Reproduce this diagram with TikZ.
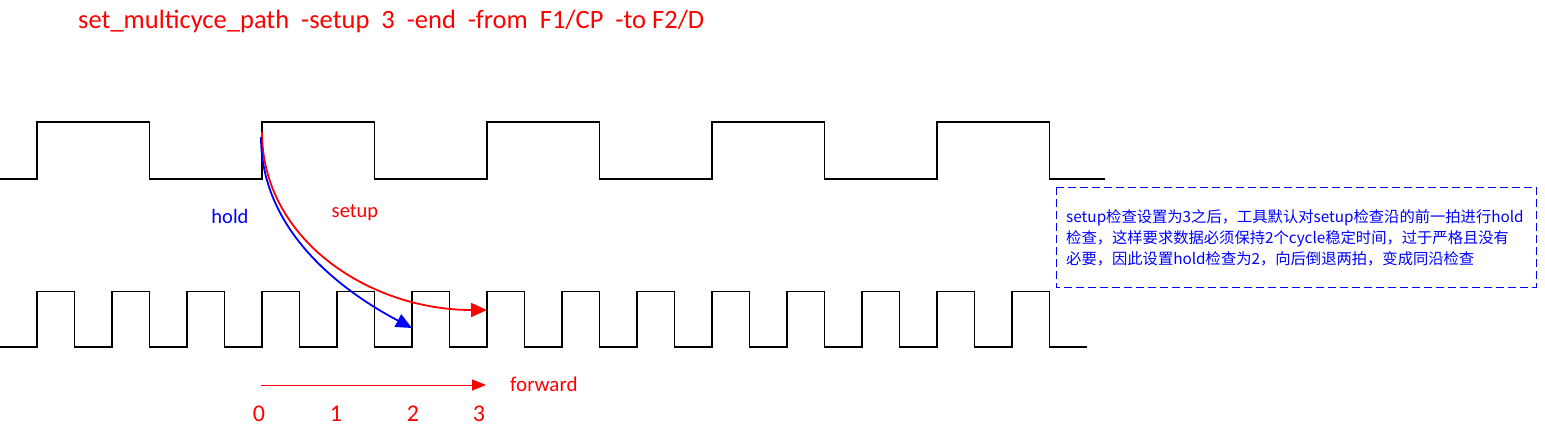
\documentclass[tikz,border=0pt]{standalone}
\usepackage{fontspec}
\setmainfont{Carlito}
\newfontfamily\cjk{Noto Sans CJK SC}
\usetikzlibrary{arrows.meta}
\definecolor{myred}{RGB}{255,0,0}
\definecolor{myblue}{RGB}{0,0,255}
\begin{document}
\begin{tikzpicture}[x=1pt,y=-1pt,
  wave/.style={line width=1.3pt,black},
  lab/.style={inner sep=0pt,font=\fontsize{20.5}{24}\selectfont},
  num/.style={inner sep=0pt,text=myred,font=\fontsize{24}{28}\selectfont},
  setuparrow/.style={line width=1.8pt,myred,-{Triangle[length=16pt,width=14pt]}},
  holdarrow/.style={line width=1.8pt,myblue,-{Triangle[length=16pt,width=14pt]}},
  fwdarrow/.style={line width=1pt,myred,-{Triangle[length=14pt,width=11pt]}},
  notebox/.style={draw=myblue,line width=1pt,dash pattern=on 8pt off 4pt},
  notetext/.style={inner sep=0pt,text=myblue,align=left,font=\cjk\fontsize{15.3}{21}\selectfont}]
\useasboundingbox (0,0) rectangle (1545,433);
% title
\node[inner sep=0pt,anchor=west,text=myred,font=\fontsize{26.5}{30}\selectfont] (title) at (78,21)
  {set\_multicyce\_path\ \ -setup\ \ 3\ \ -end\ \ -from\ \ F1/CP\ \ -to F2/D};
% top clock
\draw[wave] (0,179) \foreach \i in {0,...,4} {
  -- ({37+225*\i},179) -- ({37+225*\i},122) -- ({149.5+225*\i},122) -- ({149.5+225*\i},179)} -- (1105,179);
% bottom clock
\draw[wave] (0,347) \foreach \i in {0,...,13} {
  -- ({37+75*\i},347) -- ({37+75*\i},291.5) -- ({74.5+75*\i},291.5) -- ({74.5+75*\i},347)} -- (1087,347);
% arrows
\coordinate (clkR) at (262,132);
\coordinate (clkB) at (261,137);
\coordinate (setupE) at (487,310);
\coordinate (holdE) at (412,328);
\draw[setuparrow] (clkR) .. controls (262,240) and (370,310) .. (setupE);
\draw[holdarrow] (clkB) .. controls (261,230) and (340,290) .. (holdE);
\node[lab,text=myblue] (hold) at (230,216) {hold};
\node[lab,text=myred] (setup) at (355,213) {setup};
% forward
\coordinate (f0) at (261,385);
\coordinate (f1) at (486,385);
\draw[fwdarrow] (f0) -- (f1);
\node[lab,anchor=west,text=myred,font=\fontsize{21}{24}\selectfont] (fwd) at (510,384) {forward};
\node[num] (n0) at (259,414) {0};
\node[num] (n1) at (336,414) {1};
\node[num] (n2) at (413,414) {2};
\node[num] (n3) at (479,414) {3};
% note
\draw[notebox] (1056,187) rectangle (1536,287);
\node[notetext,anchor=west] (note) at (1066,238)
  {setup检查设置为3之后，工具默认对setup检查沿的前一拍进行hold\\
   检查，这样要求数据必须保持2个cycle稳定时间，过于严格且没有\\
   必要，因此设置hold检查为2，向后倒退两拍，变成同沿检查};
\end{tikzpicture}
\end{document}
